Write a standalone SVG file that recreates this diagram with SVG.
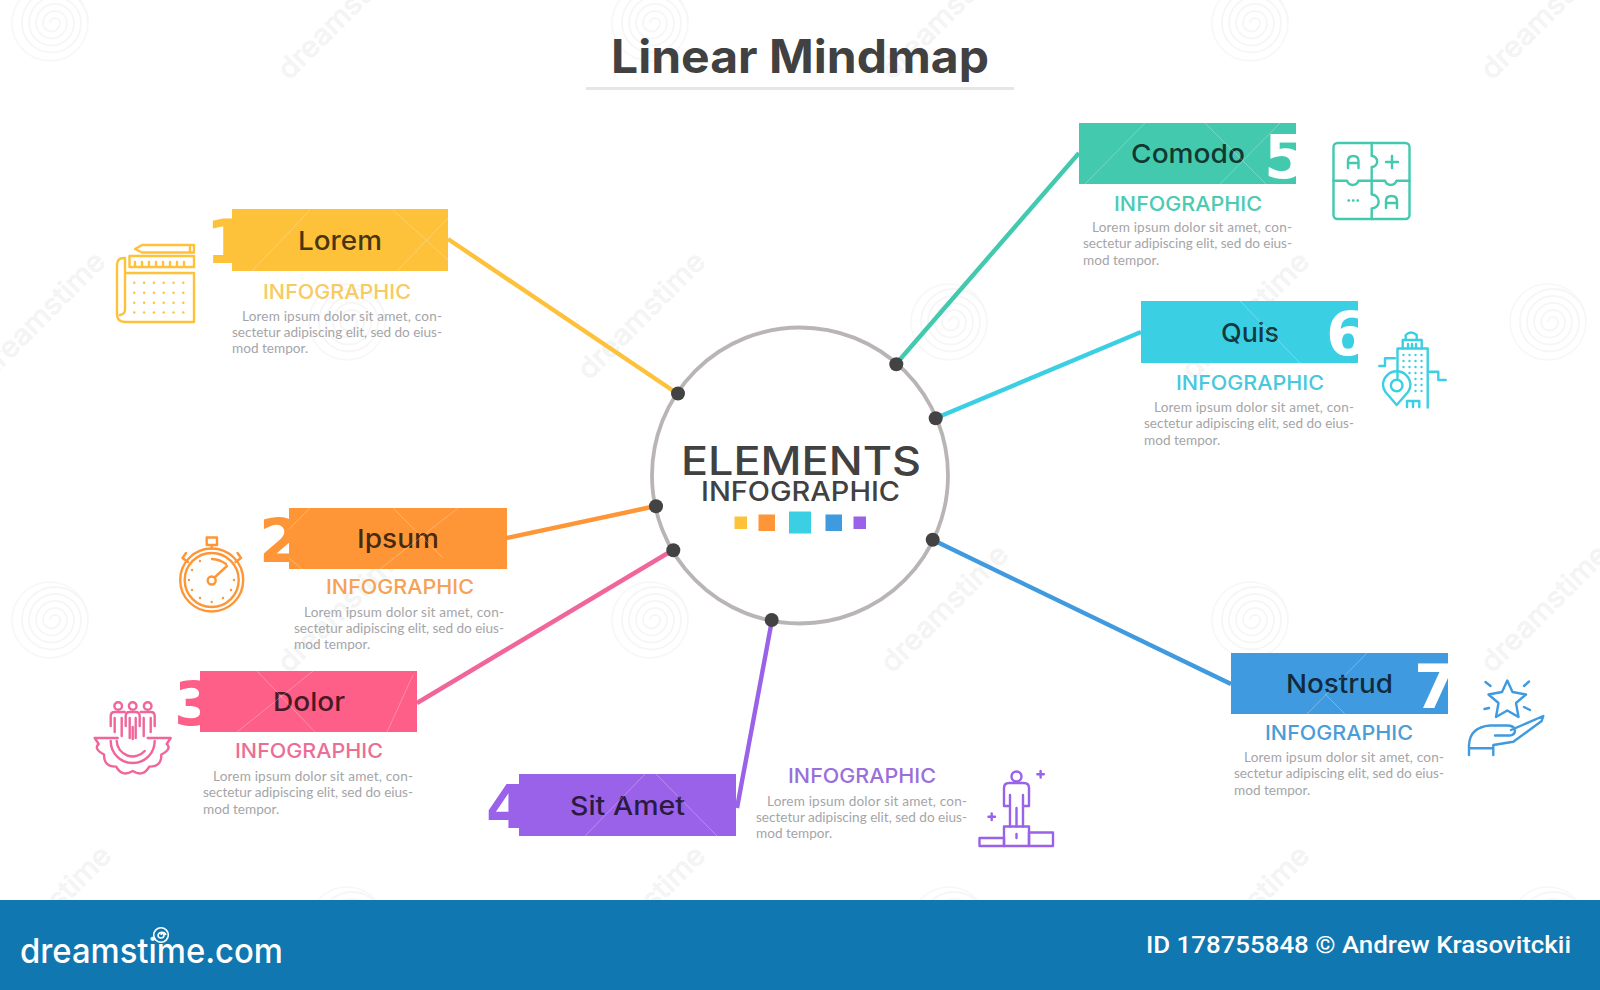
<svg xmlns="http://www.w3.org/2000/svg" width="1600" height="990" viewBox="0 0 1600 990">
<style>
text{font-family:"Inter","Liberation Sans",sans-serif}
.lbl{font-size:26px;font-weight:500;fill:#000;fill-opacity:.74}
.sub{font-size:20.5px;font-weight:500}
.body{font-family:"Lato","Open Sans",sans-serif;font-size:13.6px;fill:#a5a5a8}
.num{font-family:"DejaVu Sans",sans-serif;font-size:61px;font-weight:700}
.wm{font-size:28px;font-weight:400;fill:#f6f6f6;stroke:#f0f0f0;stroke-width:.5}
.ic{fill:none;stroke-width:2.4;stroke-linecap:round;stroke-linejoin:round}
.cn{stroke-width:4.4;fill:none}
.y{fill:#fdc13a}.o{fill:#fe9637}.p{fill:#fd5f88}.v{fill:#9a62e8}.g{fill:#42c9ae}.c{fill:#3bcfe3}.b{fill:#3f9adf}
.ys{stroke:#fdc13a}.os{stroke:#fe9637}.ps{stroke:#f0659a}.vs{stroke:#9a62e8}.gs{stroke:#42c9ae}.cs{stroke:#3bcfe3}.bs{stroke:#3f9adf}
.wl{stroke:#fff;stroke-opacity:.28;stroke-width:1;fill:none}
</style>
<defs>
<g id="sw"><path d="M0 0a5 5 0 0 1 10 0a8.500 8.500 0 0 1-17 0a12 12 0 0 1 24 0a15.500 15.500 0 0 1-31 0a19 19 0 0 1 38 0a22.500 22.500 0 0 1-45 0a26 26 0 0 1 52 0a29.500 29.500 0 0 1-59 0a33 33 0 0 1 66 0" fill="none" stroke="#f6f6f6" stroke-width="1.800"/><circle r="38" fill="none" stroke="#f7f7f7" stroke-width="1.500"/></g>
<text id="wt" class="wm" text-anchor="end" textLength="167" lengthAdjust="spacingAndGlyphs">dreamstime</text>
</defs>
<rect width="1600" height="990" fill="#fff"/>
<g id="watermark">
<use href="#sw" x="50" y="23"/><use href="#sw" x="650" y="23"/><use href="#sw" x="1250" y="23"/>
<use href="#sw" x="347" y="322"/><use href="#sw" x="949" y="322"/><use href="#sw" x="1548" y="322"/>
<use href="#sw" x="50" y="620"/><use href="#sw" x="650" y="620"/><use href="#sw" x="1250" y="620"/>
<use href="#sw" x="347" y="925"/><use href="#sw" x="949" y="925"/><use href="#sw" x="1548" y="925"/>
<use href="#wt" transform="translate(407,-37) rotate(-45)"/><use href="#wt" transform="translate(1010,-37) rotate(-45)"/><use href="#wt" transform="translate(1610,-37) rotate(-45)"/>
<use href="#wt" transform="translate(107,263) rotate(-45)"/><use href="#wt" transform="translate(707,263) rotate(-45)"/><use href="#wt" transform="translate(1311,263) rotate(-45)"/>
<use href="#wt" transform="translate(407,556) rotate(-45)"/><use href="#wt" transform="translate(1010,556) rotate(-45)"/><use href="#wt" transform="translate(1610,556) rotate(-45)"/>
<use href="#wt" transform="translate(113,857) rotate(-45)"/><use href="#wt" transform="translate(707,857) rotate(-45)"/><use href="#wt" transform="translate(1311,857) rotate(-45)"/>
</g>
<g id="title">
<text x="611" y="73" font-size="46" font-weight="700" fill="#414141" textLength="378" lengthAdjust="spacingAndGlyphs">Linear Mindmap</text>
<rect x="586" y="87" width="428" height="3" fill="#e6e6e6"/>
</g>
<g id="connectors">
<path class="cn ys" d="M448 239L678 394"/>
<path class="cn os" d="M507 538L656 506"/>
<path class="cn ps" d="M417 703L673 550"/>
<path class="cn vs" d="M737 808L772 620"/>
<path class="cn gs" d="M1079 153L896 364"/>
<path class="cn cs" d="M1141 332L936 418"/>
<path class="cn bs" d="M1231 684L933 540"/>
</g>
<g id="center">
<circle cx="800" cy="475.500" r="148" fill="#fff" stroke="#b9b5b5" stroke-width="3.800"/>
<text x="681" y="475" font-size="40" font-weight="500" fill="#414141" textLength="240" lengthAdjust="spacingAndGlyphs">ELEMENTS</text>
<text x="701" y="501" font-size="26.500" font-weight="500" fill="#414141" textLength="199" lengthAdjust="spacingAndGlyphs">INFOGRAPHIC</text>
<rect class="y" x="734.500" y="516.500" width="12.500" height="12.500"/>
<rect class="o" x="758.500" y="514.500" width="16.500" height="16.500"/>
<rect class="c" x="789" y="511.500" width="22" height="22"/>
<rect class="b" x="825.500" y="514.500" width="16.500" height="16.500"/>
<rect class="v" x="853.500" y="516.500" width="12.500" height="12.500"/>
<g fill="#434343"><circle cx="678" cy="393.500" r="7"/><circle cx="896.300" cy="364.300" r="7"/><circle cx="935.700" cy="418.300" r="7"/><circle cx="932.700" cy="539.700" r="7"/><circle cx="771.700" cy="620" r="7"/><circle cx="673.300" cy="550.300" r="7"/><circle cx="656" cy="506.300" r="7"/></g>
</g>
<g id="node-lorem">
<text class="num y" x="206" y="263">1</text>
<rect class="y" x="232" y="209" width="216" height="62"/>
<text class="lbl" x="298" y="250" textLength="84" lengthAdjust="spacingAndGlyphs">Lorem</text>
<text class="sub" x="263" y="299" fill="#f7cb62" textLength="148" lengthAdjust="spacingAndGlyphs">INFOGRAPHIC</text>
<text class="body" x="242" y="321" textLength="200">Lorem ipsum dolor sit amet, con-</text>
<text class="body" x="232" y="337" textLength="210">sectetur adipiscing elit, sed do eius-</text>
<text class="body" x="232" y="353">mod tempor.</text>
<g class="ic ys">
<path d="M135 249L142 245H194V252.500H142ZM190 245V252.500"/>
<rect x="129.500" y="256" width="64.500" height="11"/>
<path d="M135 262V266M142 262V266M149 262V266M156 262V266M163 262V266M170 262V266M177 262V266M184 262V266"/>
<path d="M125 273H194V322H125Q117 322 117 314V265Q117 258 124 258M125 258V310Q125 314 120 315"/>
</g>
<g class="y"><circle cx="134.300" cy="282.700" r="1.200"/><circle cx="144.100" cy="282.700" r="1.200"/><circle cx="153.900" cy="282.700" r="1.200"/><circle cx="163.700" cy="282.700" r="1.200"/><circle cx="173.500" cy="282.700" r="1.200"/><circle cx="183.300" cy="282.700" r="1.200"/><circle cx="134.300" cy="292.700" r="1.200"/><circle cx="144.100" cy="292.700" r="1.200"/><circle cx="153.900" cy="292.700" r="1.200"/><circle cx="163.700" cy="292.700" r="1.200"/><circle cx="173.500" cy="292.700" r="1.200"/><circle cx="183.300" cy="292.700" r="1.200"/><circle cx="134.300" cy="302.700" r="1.200"/><circle cx="144.100" cy="302.700" r="1.200"/><circle cx="153.900" cy="302.700" r="1.200"/><circle cx="163.700" cy="302.700" r="1.200"/><circle cx="173.500" cy="302.700" r="1.200"/><circle cx="183.300" cy="302.700" r="1.200"/><circle cx="134.300" cy="312.400" r="1.200"/><circle cx="144.100" cy="312.400" r="1.200"/><circle cx="153.900" cy="312.400" r="1.200"/><circle cx="163.700" cy="312.400" r="1.200"/><circle cx="173.500" cy="312.400" r="1.200"/><circle cx="183.300" cy="312.400" r="1.200"/></g>
</g>
<g id="node-ipsum">
<text class="num o" x="259" y="562">2</text>
<rect class="o" x="289" y="508" width="218" height="61"/>
<text class="lbl" x="357" y="548" textLength="82" lengthAdjust="spacingAndGlyphs">Ipsum</text>
<text class="sub" x="326" y="594" fill="#f5a257" textLength="148" lengthAdjust="spacingAndGlyphs">INFOGRAPHIC</text>
<text class="body" x="304" y="616.500" textLength="200">Lorem ipsum dolor sit amet, con-</text>
<text class="body" x="294" y="632.500" textLength="210">sectetur adipiscing elit, sed do eius-</text>
<text class="body" x="294" y="649">mod tempor.</text>
<g class="ic os">
<circle cx="211.700" cy="580" r="31.500"/><circle cx="211.700" cy="580" r="27"/>
<path d="M206.700 537.500H217V545H206.700ZM211.700 545V548.500M186 553L182.500 558L188 562M237.500 553L241 558L235.500 562"/>
<circle cx="211.700" cy="580.500" r="4"/>
<path d="M214.500 577.500L227 566M212 559Q220 559.500 226 564"/>
</g>
<g class="o"><circle cx="200" cy="561" r="1.200"/><circle cx="192" cy="570" r="1.200"/><circle cx="189" cy="580" r="1.200"/><circle cx="192" cy="590" r="1.200"/><circle cx="200" cy="598" r="1.200"/><circle cx="211.700" cy="602" r="1.200"/><circle cx="223" cy="598" r="1.200"/><circle cx="231" cy="590" r="1.200"/><circle cx="234" cy="580" r="1.200"/></g>
</g>
<g id="node-dolor">
<text class="num p" x="174" y="725">3</text>
<rect class="p" x="200" y="671" width="217" height="61"/>
<text class="lbl" x="273" y="711" textLength="72" lengthAdjust="spacingAndGlyphs">Dolor</text>
<text class="sub" x="235" y="758" fill="#ec6e95" textLength="148" lengthAdjust="spacingAndGlyphs">INFOGRAPHIC</text>
<text class="body" x="213" y="781" textLength="200">Lorem ipsum dolor sit amet, con-</text>
<text class="body" x="203" y="797" textLength="210">sectetur adipiscing elit, sed do eius-</text>
<text class="body" x="203" y="813.500">mod tempor.</text>
<g class="ic ps" transform="translate(132.700,738)">
<path d="M15 0H38L34 6Q39.600 10.600 28.600 16.500Q29 29 16.500 28.600Q10.600 39.600 0 33Q-10.600 39.600-16.500 28.600Q-29 29-28.600 16.500Q-39.600 10.600-34 6L-38 0H-15"/>
<path d="M-22 3A22 22 0 0 0 22 3M-16 3A16 16 0 0 0 12 13"/>
<circle cx="-14.500" cy="-32" r="3.800"/><circle cx="0" cy="-32" r="3.800"/><circle cx="15" cy="-32" r="3.800"/>
<path d="M-7 -12V-22Q-7 -26 -3 -26H3Q7 -26 7 -22V-12M-3 -20V0M3 -20V0M0 -11V1"/>
<path d="M-8 -26H-18Q-22 -26 -22 -22V-12M-18 -20V-6M-11 -20V-2M8 -26H18Q22 -26 22 -22V-12M18 -20V-6M11 -20V-2"/>
</g>
</g>
<g id="node-sitamet">
<text class="num v" x="486" y="828">4</text>
<rect class="v" x="519" y="774" width="217" height="62"/>
<text class="lbl" x="570" y="815" textLength="115" lengthAdjust="spacingAndGlyphs">Sit Amet</text>
<text class="sub" x="788" y="783" fill="#9a6fdc" textLength="148" lengthAdjust="spacingAndGlyphs">INFOGRAPHIC</text>
<text class="body" x="767" y="805.500" textLength="200">Lorem ipsum dolor sit amet, con-</text>
<text class="body" x="756" y="822" textLength="211">sectetur adipiscing elit, sed do eius-</text>
<text class="body" x="756" y="838">mod tempor.</text>
<g class="ic vs">
<circle cx="1016.500" cy="776.500" r="5"/>
<path d="M1010 806H1004V788Q1004 783 1009 783H1024Q1029 783 1029 788V806H1023M1010 795V826.500M1023 795V826.500M1016.500 808V826.500"/>
<rect x="1004" y="826.500" width="25" height="19.500"/><rect x="979.500" y="838" width="24.500" height="8"/><rect x="1029" y="832.500" width="24" height="13.500"/>
<path d="M1016.500 834V838M1040.600 771V777.500M1037.400 774.300H1043.800M991.700 813.500V820M988.500 816.700H995"/>
</g>
</g>
<g id="node-comodo">
<rect class="g" x="1079" y="123" width="217" height="61"/>
<text class="lbl" x="1131" y="163" textLength="114" lengthAdjust="spacingAndGlyphs">Comodo</text>
<text class="num" x="1264" y="178" fill="#fff">5</text>
<text class="sub" x="1114" y="211" fill="#4dcab2" textLength="148" lengthAdjust="spacingAndGlyphs">INFOGRAPHIC</text>
<text class="body" x="1092" y="232" textLength="200">Lorem ipsum dolor sit amet, con-</text>
<text class="body" x="1083" y="248" textLength="209">sectetur adipiscing elit, sed do eius-</text>
<text class="body" x="1083" y="265">mod tempor.</text>
<g class="ic gs">
<rect x="1333.500" y="143" width="76" height="76" rx="4"/>
<path d="M1371.700 143V156A5.500 5.500 0 0 1 1371.700 167V194.500A7 7 0 0 1 1371.700 208.500V219M1333.500 180.700H1347A6 6 0 0 0 1358.500 180.700H1385A6 6 0 0 0 1396.500 180.700H1409.500"/>
<path d="M1348 168V161Q1348 156 1353.300 156Q1358.500 156 1358.500 161V168M1348 163H1358.500M1392 156V168M1386 162H1398M1386 208V201Q1386 196 1391.500 196Q1397 196 1397 201V208M1386 203H1397"/>
<path d="M1348.500 200.500H1349M1353 200.500H1353.500M1357.500 200.500H1358"/>
</g>
</g>
<g id="node-quis">
<rect class="c" x="1141" y="301" width="217" height="62"/>
<text class="lbl" x="1221" y="342" textLength="58" lengthAdjust="spacingAndGlyphs">Quis</text>
<text class="num" x="1326" y="355" fill="#fff">6</text>
<text class="sub" x="1176" y="390" fill="#47c8dc" textLength="148" lengthAdjust="spacingAndGlyphs">INFOGRAPHIC</text>
<text class="body" x="1154" y="412" textLength="200">Lorem ipsum dolor sit amet, con-</text>
<text class="body" x="1144" y="428" textLength="210">sectetur adipiscing elit, sed do eius-</text>
<text class="body" x="1144" y="444.500">mod tempor.</text>
<g class="ic cs">
<path d="M1397.500 378V348.500H1427.700V407.500"/>
<path d="M1402.700 348.500V340H1421.700V348.500M1405.700 340V335Q1411 330 1416.700 335V340M1408 344V348M1412 344V348M1416 344V348"/>
<path d="M1396.700 405L1385.500 392Q1383 388 1383 385A13.700 13.700 0 0 1 1410.400 385Q1410.400 388 1408 392Z"/>
<circle cx="1396.700" cy="385.500" r="5.800"/>
<path d="M1379.300 366H1385V358.300H1395M1428.300 371.700H1438.300V380H1445.700M1407 407V401H1419.300V407M1413 402V407"/>
</g>
<g class="c"><circle cx="1403.500" cy="355" r="1.200"/><circle cx="1409.500" cy="355" r="1.200"/><circle cx="1415.500" cy="355" r="1.200"/><circle cx="1421.500" cy="355" r="1.200"/><circle cx="1403.500" cy="361" r="1.200"/><circle cx="1409.500" cy="361" r="1.200"/><circle cx="1415.500" cy="361" r="1.200"/><circle cx="1421.500" cy="361" r="1.200"/><circle cx="1403.500" cy="367" r="1.200"/><circle cx="1409.500" cy="367" r="1.200"/><circle cx="1415.500" cy="367" r="1.200"/><circle cx="1421.500" cy="367" r="1.200"/><circle cx="1403.500" cy="373" r="1.200"/><circle cx="1409.500" cy="373" r="1.200"/><circle cx="1415.500" cy="373" r="1.200"/><circle cx="1421.500" cy="373" r="1.200"/><circle cx="1415.500" cy="379" r="1.200"/><circle cx="1421.500" cy="379" r="1.200"/><circle cx="1415.500" cy="385" r="1.200"/><circle cx="1421.500" cy="385" r="1.200"/><circle cx="1415.500" cy="391" r="1.200"/><circle cx="1421.500" cy="391" r="1.200"/></g>
</g>
<g id="node-nostrud">
<rect class="b" x="1231" y="653" width="217" height="61"/>
<text class="lbl" x="1286" y="693" textLength="107" lengthAdjust="spacingAndGlyphs">Nostrud</text>
<text class="num" x="1414" y="708" fill="#fff">7</text>
<text class="sub" x="1265" y="740" fill="#4a9dd6" textLength="148" lengthAdjust="spacingAndGlyphs">INFOGRAPHIC</text>
<text class="body" x="1244" y="761.500" textLength="200">Lorem ipsum dolor sit amet, con-</text>
<text class="body" x="1234" y="778" textLength="210">sectetur adipiscing elit, sed do eius-</text>
<text class="body" x="1234" y="794.500">mod tempor.</text>
<g class="ic bs">
<path d="M1507.300 680.500L1512.500 692L1526 694.500L1516 703L1518.500 717L1507.300 710.500L1496 717L1498.500 703L1488.500 694.500L1502 692Z"/>
<path d="M1485.500 682L1490.500 686M1524 686L1529 681.500M1484.500 709L1489 708M1524 707L1530 710"/>
<path d="M1469 755V745Q1470 727 1490 725.500H1507Q1514 725.500 1515 730Q1515 735 1510 735.500H1495M1511 730L1543.300 716L1541.700 721L1513.300 741.700L1493.300 745V755M1469 748.300H1493"/>
</g>
</g>
<g id="box-watermark-lines">
<path class="wl" d="M310 210L252 271M393 210L448 260M448 218L397 271"/>
<path class="wl" d="M310 508L289 529M289 558L302 569M393 508L443 558M458 508L380 569"/>
<path class="wl" d="M257 671L315 732M313 671L237 732M413 675L387 732"/>
<path class="wl" d="M645 774L585 836M656 774L717 836"/>
<path class="wl" d="M1145 123L1085 184M1205 123L1266 184M1280 123L1220 184"/>
<path class="wl" d="M1240 301L1300 363"/>
<path class="wl" d="M1367 653L1307 714M1325 694L1345 714"/>
</g>
<g id="banner">
<rect y="900" width="1600" height="90" fill="#1077b0"/>
<text x="20" y="963" font-size="34" font-weight="500" fill="#fff" textLength="263" lengthAdjust="spacingAndGlyphs">dreamstime.com</text>
<g transform="translate(161,935)" fill="none" stroke="#fff" stroke-width="1.600"><circle r="7.300"/><path d="M0 0a1.500 1.500 0 0 1 3 0a3 3 0 0 1-6 0a4.300 4.300 0 0 1 8 0"/></g>
<text x="1146" y="953" font-size="23" font-weight="500" fill="#fff" textLength="425" lengthAdjust="spacingAndGlyphs" style="font-family:Roboto,sans-serif">ID 178755848 © Andrew Krasovitckii</text>
</g>
</svg>
